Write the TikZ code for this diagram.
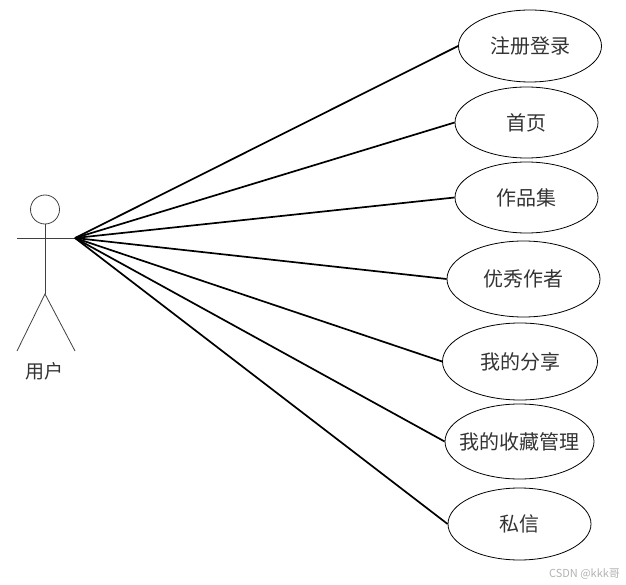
\documentclass[tikz,border=0pt]{standalone}
\usepackage{fontspec}
\setmainfont{Noto Sans CJK SC}
\usetikzlibrary{shapes.geometric}
\tikzset{
  usecase/.style={draw, ellipse, inner sep=-25pt, line width=0.8pt, text=black!80, font=\fontsize{20}{24}\selectfont},
  limb/.style={draw=black!75, line width=0.8pt},
  link/.style={draw, line width=1.7pt}
}
\begin{document}
\begin{tikzpicture}[x=1pt, y=-1pt]
  \useasboundingbox (0,0) rectangle (626,585);
  % actor
  \node[circle, draw=black!75, line width=0.8pt, minimum size=29pt, inner sep=0pt] (head) at (45,209.5) {};
  \coordinate (handl) at (17,238);
  \coordinate (handr) at (75,238);
  \coordinate (hip) at (45,294);
  \coordinate (footl) at (17,351);
  \coordinate (footr) at (75,351);
  \draw[limb] (head.south) -- (hip);
  \draw[limb] (handl) -- (handr);
  \draw[limb] (footl) -- (hip) -- (footr);
  \node[text=black!80, font=\fontsize{19}{24}\selectfont] (user) at (44.5,371) {用户};
  % use cases
  \node[usecase, minimum width=143pt, minimum height=72pt] (login) at (530,46) {注册登录};
  \node[usecase, minimum width=143pt, minimum height=71pt] (home) at (526.5,122.5) {首页};
  \node[usecase, minimum width=143pt, minimum height=71pt] (works) at (526.5,197.5) {作品集};
  \node[usecase, minimum width=153pt, minimum height=76pt] (authors) at (523.5,279) {优秀作者};
  \node[usecase, minimum width=155pt, minimum height=77pt] (share) at (520,361.5) {我的分享};
  \node[usecase, minimum width=149pt, minimum height=75pt] (favs) at (519.5,441.5) {我的收藏管理};
  \node[usecase, minimum width=143pt, minimum height=72pt] (msg) at (519.5,524) {私信};
  % links
  \foreach \n in {login,home,works,authors,share,favs,msg}
    \draw[link] (handr) -- (\n.west);
  \node[text=black!30, font=\fontsize{11}{12}\selectfont] (mark) at (584.5,574) {CSDN @kkk哥};
\end{tikzpicture}
\end{document}
